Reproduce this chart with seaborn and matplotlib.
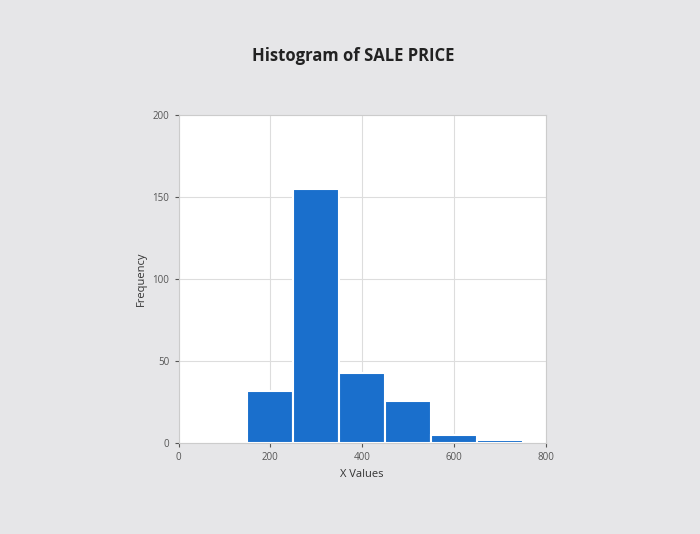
import matplotlib
matplotlib.use("Agg")
import matplotlib.pyplot as plt
import seaborn as sns
import numpy as np

bin_edges = [150, 250, 350, 450, 550, 650, 750]
bin_centers = [200, 300, 400, 500, 600, 700]
counts = [32, 155, 43, 26, 5, 2]
x_ticks = [0, 200, 400, 600, 800]
y_ticks = [0, 50, 100, 150, 200]

sns.set_style("white")
plt.rcParams['font.family'] = ['Open Sans', 'DejaVu Sans']

fig = plt.figure(figsize=(7, 5.34), dpi=100, facecolor="#e6e6e8")
ax = fig.add_axes([0.255, 0.17, 0.525, 0.615])
ax.set_facecolor("white")
sns.histplot(x=bin_centers, weights=counts, bins=bin_edges, ax=ax,
             color="#1a6fcc", alpha=1, edgecolor="white", linewidth=1.5)
ax.set_xlim(0, 800)
ax.set_ylim(0, 200)
ax.set_xticks(x_ticks)
ax.set_yticks(y_ticks)
ax.grid(True, color="#dddddd", linewidth=0.8)
ax.set_axisbelow(True)
for s in ax.spines.values():
    s.set_color("#cccccc")
ax.tick_params(labelsize=7, colors="#555555", length=3, direction="out", left=True, bottom=True)
ax.set_xlabel("X Values", fontsize=8, color="#333333")
ax.set_ylabel("Frequency", fontsize=8, color="#333333")
fig.text(0.505, 0.885, "Histogram of SALE PRICE", ha="center", fontsize=12, fontweight="bold", color="#222222")
fig.savefig("out.png", dpi=100, facecolor=fig.get_facecolor())
